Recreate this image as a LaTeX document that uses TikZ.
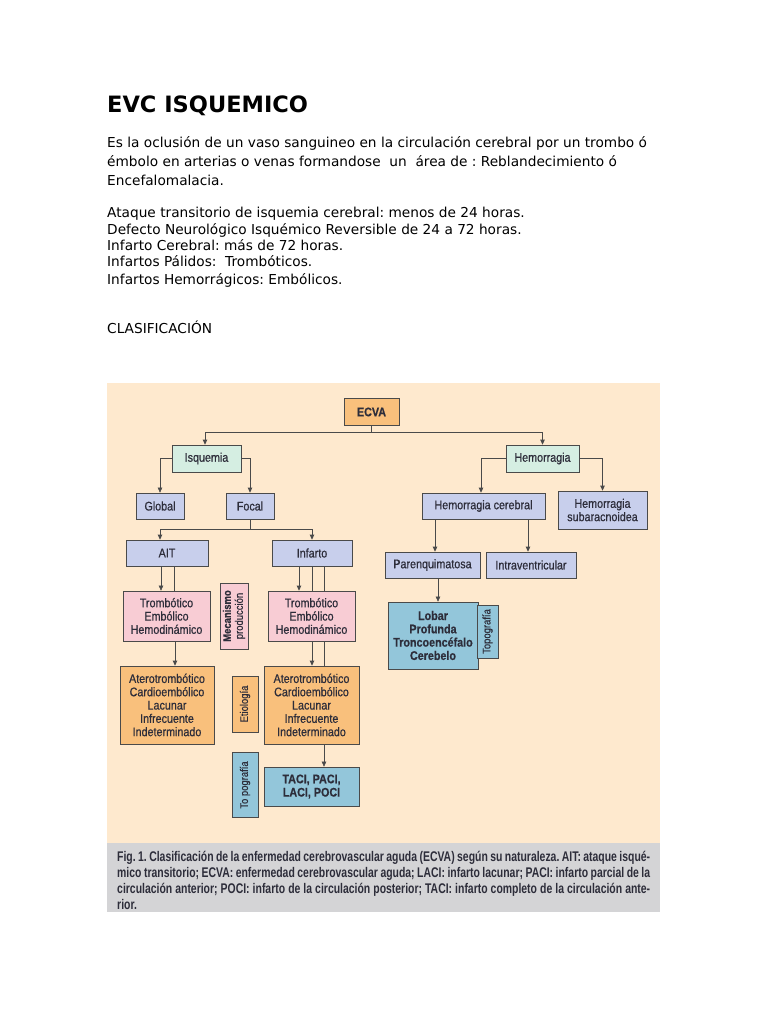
\documentclass[tikz,border=0pt]{standalone}
\usepackage{fontspec}
\setmainfont{DejaVu Sans}
\newfontfamily\bodyfont{DejaVu Sans}
\newfontfamily\figfont[FakeStretch=0.86,FakeBold=0.6]{Liberation Sans}
\newfontfamily\capfont[FakeStretch=0.745]{Liberation Sans}
\usetikzlibrary{arrows.meta}
\definecolor{peach}{HTML}{FEE9CE}
\definecolor{capgray}{HTML}{D4D4D6}
\definecolor{edge}{HTML}{4A4A4A}
\definecolor{txt}{HTML}{2D2D3A}
\definecolor{orng}{HTML}{F9C07C}
\definecolor{grn}{HTML}{D5EEE2}
\definecolor{blu}{HTML}{C8CFEC}
\definecolor{pnk}{HTML}{F8CCD4}
\definecolor{tea}{HTML}{93C6DA}
\begin{document}
\frenchspacing
\begin{tikzpicture}[x=1pt,y=-1pt,
  box/.style={draw=edge, line width=0.7pt, inner sep=1pt, align=center, text=txt,
    font=\figfont\fontsize{12.5}{13.3}\selectfont},
  vbox/.style={box, rotate=90, font=\figfont\fontsize{11}{12}\selectfont},
  ln/.style={draw=edge, line width=0.9pt},
  thin/.style={draw=edge, line width=0.5pt},
  arr/.style={ln, -{Triangle[length=5pt,width=4.5pt]}},
  tarr/.style={thin, -{Triangle[length=5pt,width=4.5pt]}},
  body/.style={anchor=base west, inner sep=0pt, font=\bodyfont\fontsize{13.7}{15}\selectfont},
  capl/.style={anchor=base west, inner sep=0pt, text=txt, font=\capfont\bfseries\fontsize{14}{16}\selectfont}
]
\useasboundingbox (0,0) rectangle (768,1024);
\fill[white] (0,0) rectangle (768,1024);

% text
\node[anchor=base west, inner sep=0pt, font=\bodyfont\bfseries\fontsize{22.5}{26}\selectfont] (title) at (107,113) {EVC ISQUEMICO};
\node[body] (p1) at (107,148) {Es la oclusión de un vaso sanguineo en la circulación cerebral por un trombo ó};
\node[body] (p2) at (107,167) {émbolo en arterias o venas formandose \ un \ área de : Reblandecimiento ó};
\node[body] (p3) at (107,186) {Encefalomalacia.};
\node[body] (q1) at (107,218) {Ataque transitorio de isquemia cerebral: menos de 24 horas.};
\node[body] (q2) at (107,234) {Defecto Neurológico Isquémico Reversible de 24 a 72 horas.};
\node[body] (q3) at (107,250) {Infarto Cerebral: más de 72 horas.};
\node[body] (q4) at (107,266) {Infartos Pálidos: \ Trombóticos.};
\node[body] (q5) at (107,284) {Infartos Hemorrágicos: Embólicos.};
\node[body] (clas) at (107,333) {CLASIFICACIÓN};

% figure background
\fill[peach] (107,383) rectangle (660,843);
\fill[capgray] (107,843) rectangle (660,912);

% nodes
\node[box, fill=orng, minimum width=55pt, minimum height=27pt, font=\figfont\bfseries\fontsize{12.5}{13.3}\selectfont] (ecva) at (371.5,412) {ECVA};
\node[box, fill=grn, minimum width=69pt, minimum height=27pt] (isq) at (206.5,458.5) {Isquemia};
\node[box, fill=grn, minimum width=73pt, minimum height=27pt] (hem) at (542.5,458.5) {Hemorragia};
\node[box, fill=blu, minimum width=48pt, minimum height=26pt] (glob) at (160,506) {Global};
\node[box, fill=blu, minimum width=48pt, minimum height=26pt] (foc) at (250,506) {Focal};
\node[box, fill=blu, minimum width=123pt, minimum height=26pt] (hcer) at (483.5,506) {Hemorragia cerebral};
\node[box, fill=blu, minimum width=89pt, minimum height=38pt] (subar) at (602.5,510) {Hemorragia\\subaracnoidea};
\node[box, fill=blu, minimum width=82pt, minimum height=26pt] (ait) at (167,553) {AIT};
\node[box, fill=blu, minimum width=80pt, minimum height=26pt] (inf) at (312,553) {Infarto};
\node[box, fill=blu, minimum width=95pt, minimum height=26pt] (paren) at (432.5,565) {Parenquimatosa};
\node[box, fill=blu, minimum width=90pt, minimum height=26pt] (intra) at (531,565) {Intraventricular};
\node[box, fill=pnk, minimum width=87pt, minimum height=50pt] (tromA) at (166.5,616) {Trombótico\\Embólico\\Hemodinámico};
\node[box, fill=pnk, minimum width=87pt, minimum height=50pt] (tromI) at (311.5,616) {Trombótico\\Embólico\\Hemodinámico};
\node[vbox, fill=pnk, minimum width=66pt, minimum height=28pt] (meca) at (234,616) {{\bfseries Mecanismo}\\producción};
\node[box, fill=tea, minimum width=90pt, minimum height=67pt, font=\figfont\bfseries\fontsize{12.5}{13.3}\selectfont] (lobar) at (433,635.5) {Lobar\\Profunda\\Troncoencéfalo\\Cerebelo};
\node[vbox, fill=tea, minimum width=53pt, minimum height=21pt] (topoR) at (487.5,631.5) {Topografía};
\node[box, fill=orng, minimum width=94pt, minimum height=78pt] (ateA) at (167,705) {Aterotrombótico\\Cardioembólico\\Lacunar\\Infrecuente\\Indeterminado};
\node[box, fill=orng, minimum width=95pt, minimum height=78pt] (ateI) at (311.5,705) {Aterotrombótico\\Cardioembólico\\Lacunar\\Infrecuente\\Indeterminado};
\node[vbox, fill=orng, minimum width=56pt, minimum height=26pt] (etio) at (245,704) {Etiología};
\node[vbox, fill=tea, minimum width=65pt, minimum height=26pt] (topoL) at (245,785) {To pografía};
\node[box, fill=tea, minimum width=95pt, minimum height=39pt, font=\figfont\bfseries\fontsize{12.5}{13.3}\selectfont] (taci) at (311.5,786.5) {TACI, PACI,\\LACI, POCI};

% connectors
\draw[arr] (ecva.south) -- ++(0,7) -| ([xshift=-1.5pt]isq.north);
\draw[arr] (ecva.south) -- ++(0,7) -| (hem.north);
\draw[tarr] (isq.west) -| (glob.north);
\draw[arr] (isq.east) -| (foc.north);
\draw[arr] (hem.west) -| ([xshift=-2.5pt]hcer.north);
\draw[arr] (hem.east) -| (subar.north);
\draw[arr] (foc.south) -- ++(0,10) -| ([xshift=-7pt]ait.north);
\draw[arr] (foc.south) -- ++(0,10) -| (inf.north);
\draw[arr] ([xshift=-48.5pt]hcer.south) -- ([xshift=-48.5pt]hcer.south |- paren.north);
\draw[arr] ([xshift=44.5pt]hcer.south) -- ([xshift=44.5pt]hcer.south |- intra.north);
\draw[tarr] ([xshift=-6pt]ait.south) -- ([xshift=-6pt]ait.south |- tromA.north);
\draw[ln] ([xshift=7pt]ait.south) -- ([xshift=7pt]ait.south |- tromA.north);
\draw[arr] ([xshift=8.5pt]tromA.south) -- ([xshift=8.5pt]tromA.south |- ateA.north);
\draw[arr] ([xshift=-13pt]inf.south) -- ([xshift=-13pt]inf.south |- tromI.north);
\draw[ln] (inf.south) -- (inf.south |- tromI.north);
\draw[thin] ([xshift=12pt]inf.south) -- ([xshift=12pt]inf.south |- tromI.north);
\draw[arr] ([xshift=0.5pt]tromI.south) -- ([xshift=0.5pt]tromI.south |- ateI.north);
\draw[thin] ([xshift=12.5pt]tromI.south) -- ([xshift=12.5pt]tromI.south |- ateI.north);
\draw[tarr] ([xshift=12.5pt]ateI.south) -- ([xshift=12.5pt]ateI.south |- taci.north);
\draw[tarr] ([xshift=5.5pt]paren.south) -- ([xshift=5.5pt]paren.south |- lobar.north);

% caption
\node[capl] (c1) at (117,861) {\makebox[533pt][s]{Fig. 1. Clasificación de la enfermedad cerebrovascular aguda (ECVA) según su naturaleza. AIT: ataque isqué-}};
\node[capl] (c2) at (117,877) {\makebox[533pt][s]{mico transitorio; ECVA: enfermedad cerebrovascular aguda; LACI: infarto lacunar; PACI: infarto parcial de la}};
\node[capl] (c3) at (117,893) {\makebox[533pt][s]{circulación anterior; POCI: infarto de la circulación posterior; TACI: infarto completo de la circulación ante-}};
\node[capl] (c4) at (117,909) {rior.};
\end{tikzpicture}
\end{document}
